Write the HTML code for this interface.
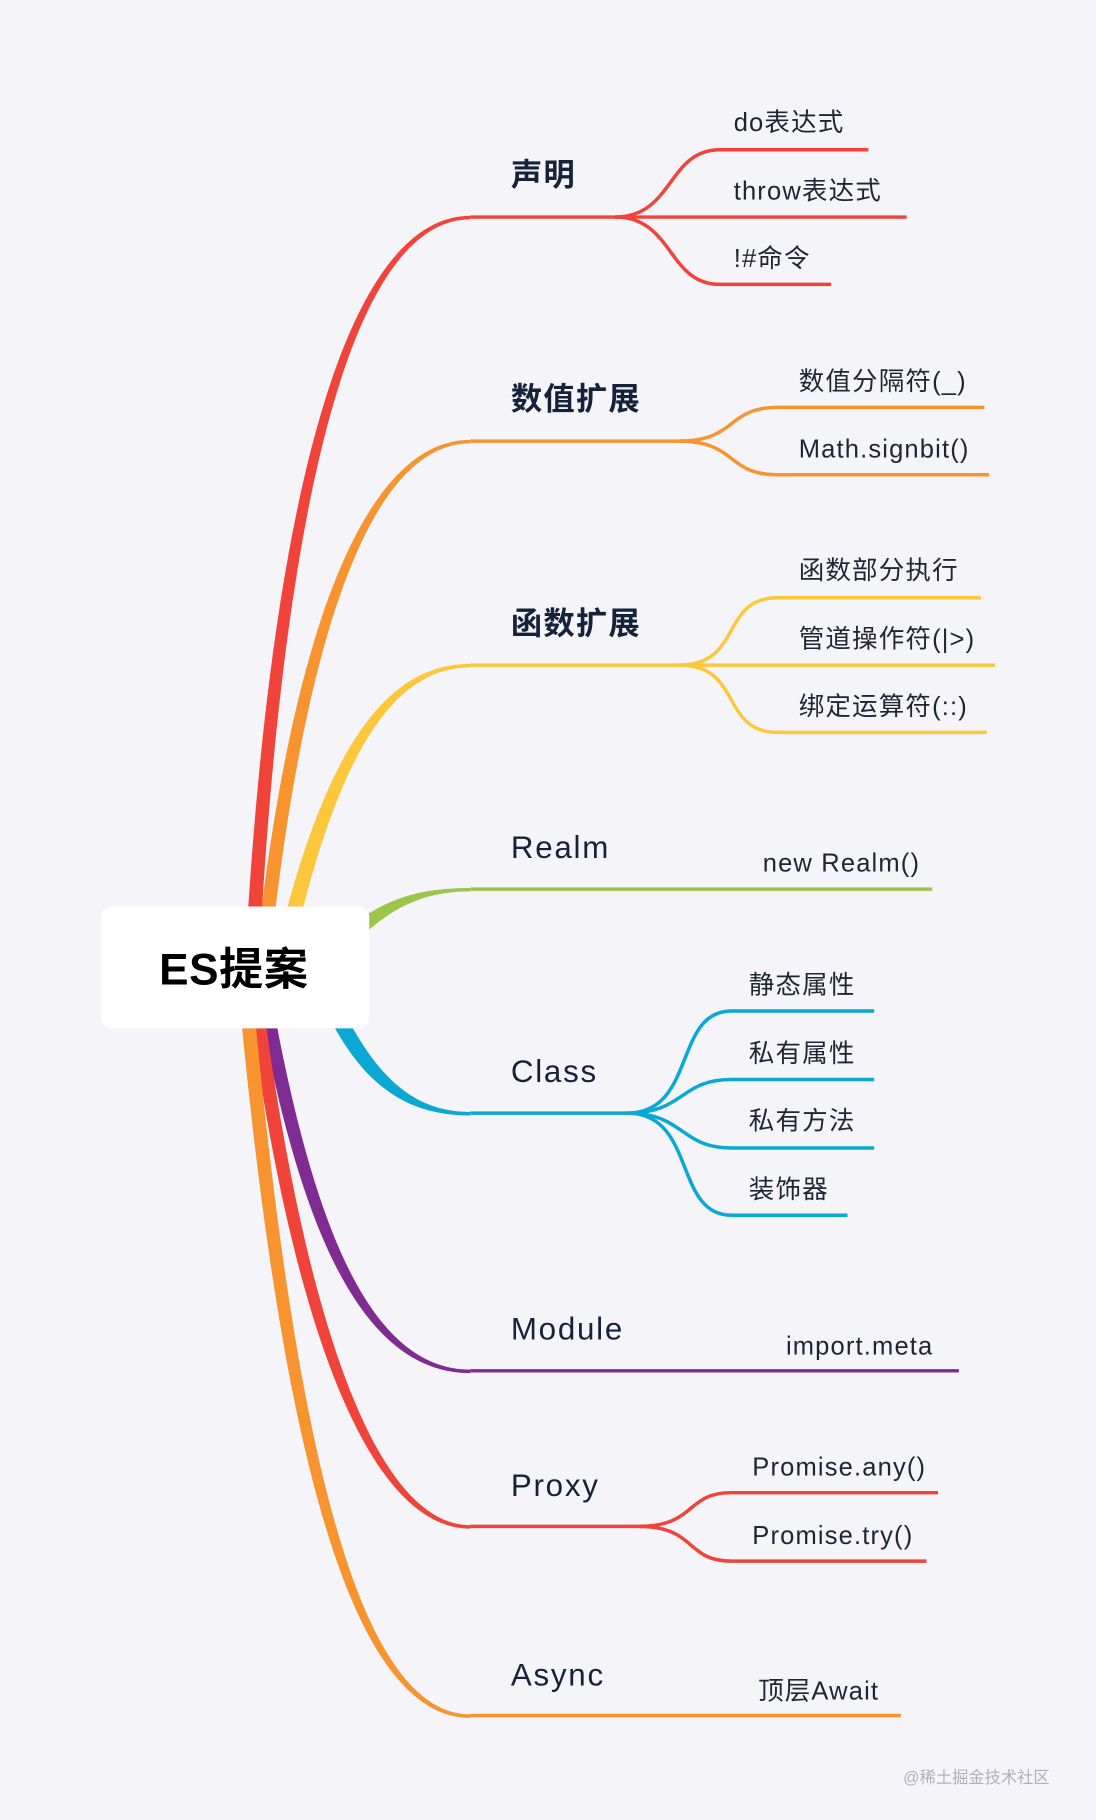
<!DOCTYPE html>
<html><head><meta charset="utf-8"><style>
html,body{margin:0;padding:0;background:#f4f4f9;}
svg{display:block}
.cat{font-family:"Liberation Sans","Noto Sans CJK SC",sans-serif;font-weight:bold;font-size:27px;letter-spacing:1px;fill:#15223a}
.cat.n{font-weight:normal;letter-spacing:1.5px}
.ch{font-family:"Liberation Sans","Noto Sans CJK SC",sans-serif;font-size:22px;letter-spacing:1px;fill:#1f2533}
</style></head><body>
<svg width="1096" height="1820" viewBox="0 0 944 1568" xmlns="http://www.w3.org/2000/svg">
<rect width="944" height="1568" fill="#f4f4f9"/>
<g fill="none" stroke-width="3">
<path d="M212 810 C235 420 300 186 405 186 L405 189 C306 189 246 420 224 810 Z" fill="#f0433a" stroke="none"/>
<path d="M222 810 C250 560 310 379 405 379 L405 382 C316 382 262 560 234 810 Z" fill="#f7942f" stroke="none"/>
<path d="M240 810 C280 650 330 572 405 572 L405 575 C338 575 292 650 254 810 Z" fill="#fcc73a" stroke="none"/>
<path d="M300 800 C330 775 360 765 405 765 L405 768 C365 768 336 782 306 812 Z" fill="#9cc54a" stroke="none"/>
<path d="M290 860 C320 920 350 958 405 958 L405 961 C345 961 310 930 280 870 Z" fill="#0aa8d3" stroke="none"/>
<path d="M234 860 C270 1060 320 1180 405 1180 L405 1183 C312 1183 258 1060 222 860 Z" fill="#7f2b91" stroke="none"/>
<path d="M226 860 C260 1120 320 1314 405 1314 L405 1317 C312 1317 248 1120 214 860 Z" fill="#f0433a" stroke="none"/>
<path d="M218 860 C250 1200 300 1477 405 1477 L405 1480 C292 1480 238 1200 206 860 Z" fill="#f7942f" stroke="none"/>

<g stroke="#f0433a">
<path d="M405 187 H540"/>
<path d="M530 187 C580 187 575 129 620 129 H748"/>
<path d="M530 187 H781"/>
<path d="M530 187 C580 187 575 245 620 245 H716"/>
</g>
<g stroke="#f7942f">
<path d="M405 380 H590"/>
<path d="M585 380 C635 380 625 351 670 351 H848"/>
<path d="M585 380 C635 380 625 409 670 409 H852"/>
</g>
<g stroke="#fcc73a">
<path d="M405 573 H590"/>
<path d="M585 573 C640 573 620 515 670 515 H845"/>
<path d="M585 573 H857"/>
<path d="M585 573 C640 573 620 631 670 631 H850"/>
</g>
<path d="M405 766 H803" stroke="#9cc54a"/>
<g stroke="#0aa8d3">
<path d="M405 959 H545"/>
<path d="M540 959 C600 959 580 871 630 871 H753"/>
<path d="M540 959 C590 959 585 930 630 930 H753"/>
<path d="M540 959 C590 959 585 989 630 989 H753"/>
<path d="M540 959 C600 959 580 1047 630 1047 H730"/>
</g>
<path d="M405 1181 H826" stroke="#7f2b91"/>
<g stroke="#f0433a">
<path d="M405 1315 H555"/>
<path d="M550 1315 C600 1315 590 1286 630 1286 H808"/>
<path d="M550 1315 C600 1315 590 1345 630 1345 H798"/>
</g>
<path d="M405 1478 H776" stroke="#f7942f"/>
</g>

<rect x="87" y="781" width="231" height="105" rx="9" fill="#fff"/>
<text x="137" y="848" style="font-family:'Liberation Sans','Noto Sans CJK SC',sans-serif;font-weight:bold;font-size:38px;letter-spacing:0.5px" fill="#000">ES提案</text>

<text class="cat" x="440" y="160">声明</text>
<text class="ch" x="632" y="113">do表达式</text>
<text class="ch" x="632" y="172">throw表达式</text>
<text class="ch" x="632" y="230">!#命令</text>

<text class="cat" x="440" y="353">数值扩展</text>
<text class="ch" x="688" y="336">数值分隔符(_)</text>
<text class="ch" x="688" y="394">Math.signbit()</text>

<text class="cat" x="440" y="546">函数扩展</text>
<text class="ch" x="688" y="499">函数部分执行</text>
<text class="ch" x="688" y="558">管道操作符(|&gt;)</text>
<text class="ch" x="688" y="616">绑定运算符(::)</text>

<text class="cat n" x="440" y="739">Realm</text>
<text class="ch" x="657" y="751">new Realm()</text>

<text class="cat n" x="440" y="932">Class</text>
<text class="ch" x="645" y="856">静态属性</text>
<text class="ch" x="645" y="915">私有属性</text>
<text class="ch" x="645" y="973">私有方法</text>
<text class="ch" x="645" y="1032">装饰器</text>

<text class="cat n" x="440" y="1154">Module</text>
<text class="ch" x="677" y="1167">import.meta</text>

<text class="cat n" x="440" y="1289">Proxy</text>
<text class="ch" x="648" y="1271">Promise.any()</text>
<text class="ch" x="648" y="1330">Promise.try()</text>

<text class="cat n" x="440" y="1452">Async</text>
<text class="ch" x="653" y="1464">顶层Await</text>

<text x="778" y="1536" style="font-family:'Liberation Sans','Noto Sans CJK SC',sans-serif;font-size:14px" fill="#b0b0b8">@稀土掘金技术社区</text>
</svg>
</body></html>
